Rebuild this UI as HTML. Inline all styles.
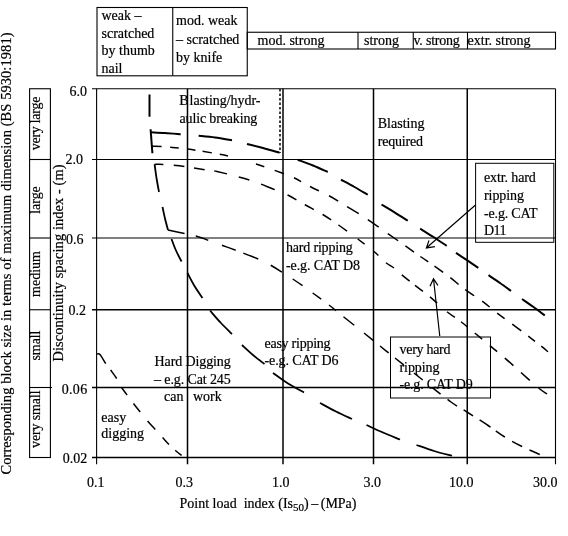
<!DOCTYPE html><html><head><meta charset="utf-8"><style>html,body{margin:0;padding:0;background:#fff}svg{display:block}text{white-space:pre}</style></head><body><svg width="568" height="536" viewBox="0 0 568 536">
<rect width="568" height="536" fill="#fff"/>
<g fill="none" stroke="#000" stroke-width="1.1">
<line x1="96.6" y1="88.75" x2="96.6" y2="464.3" stroke-width="1.1" stroke="#000"/>
<line x1="187.5" y1="88.75" x2="187.5" y2="464.3" stroke-width="1.5" stroke="#000"/>
<line x1="283" y1="88.75" x2="283" y2="464.3" stroke-width="1.5" stroke="#000"/>
<line x1="373.5" y1="88.75" x2="373.5" y2="464.3" stroke-width="1.5" stroke="#000"/>
<line x1="467.25" y1="88.75" x2="467.25" y2="464.3" stroke-width="1.5" stroke="#000"/>
<line x1="555.5" y1="88.75" x2="555.5" y2="464.3" stroke-width="1.1" stroke="#000"/>
<line x1="92" y1="88.75" x2="555.5" y2="88.75" stroke-width="1.1"/>
<line x1="92" y1="159.5" x2="555.5" y2="159.5" stroke-width="1.1"/>
<line x1="92" y1="238" x2="555.5" y2="238" stroke-width="1.1"/>
<line x1="92" y1="309.75" x2="555.5" y2="309.75" stroke-width="1.5"/>
<line x1="92" y1="387.5" x2="555.5" y2="387.5" stroke-width="1.5"/>
<line x1="92" y1="457.5" x2="555.5" y2="457.5" stroke-width="1.3"/>
<rect x="97" y="7.5" width="150.25" height="68.3"/>
<line x1="172.75" y1="7.5" x2="172.75" y2="75.5"/>
<rect x="247.25" y="32.25" width="308.25" height="16.75"/>
<line x1="358" y1="32.25" x2="358" y2="49"/>
<line x1="413.25" y1="32.25" x2="413.25" y2="49"/>
<line x1="467.5" y1="32.25" x2="467.5" y2="49"/>
<rect x="29.6" y="88.75" width="20.8" height="368.75"/>
<line x1="29.6" y1="159.5" x2="50.4" y2="159.5"/>
<line x1="29.6" y1="238" x2="50.4" y2="238"/>
<line x1="29.6" y1="309.75" x2="50.4" y2="309.75"/>
<line x1="29.6" y1="387.5" x2="52" y2="387.5"/>
<rect x="475.6" y="163.3" width="78.2" height="79" stroke-width="1"/>
<rect x="390.5" y="337" width="100" height="61" stroke-width="1"/>
</g>
<g fill="none" stroke="#000" stroke-linecap="butt">
<path d="M149.50,94.50 C149.50,98.20 149.50,113.00 149.50,116.70" stroke-width="2.0"/>
<path d="M150.60,129.20 C150.90,133.22 152.10,149.28 152.40,153.30" stroke-width="2.0"/>
<path d="M151.00,132.30 C153.33,132.42 160.05,132.68 165.00,133.00 C169.95,133.32 178.08,134.00 180.70,134.20" stroke-width="2.0"/>
<path d="M198.60,135.80 C201.33,136.08 209.43,136.77 215.00,137.50 C220.57,138.23 229.17,139.75 232.00,140.20" stroke-width="2.0"/>
<path d="M247.00,144.00 C249.67,144.67 257.58,146.54 263.00,148.00 C268.42,149.46 276.75,151.96 279.50,152.75" stroke-width="2.0"/>
<path d="M297.75,159.75 C300.29,160.71 308.00,163.46 313.00,165.50 C318.00,167.54 325.29,170.92 327.75,172.00" stroke-width="2.0"/>
<path d="M341.00,179.75 C343.25,180.96 350.04,184.50 354.50,187.00 C358.96,189.50 365.54,193.46 367.75,194.75" stroke-width="2.0"/>
<path d="M381.50,204.50 C383.67,205.80 390.12,209.59 394.50,212.30 C398.88,215.01 405.54,219.34 407.75,220.75" stroke-width="2.0"/>
<path d="M420.20,228.70 C422.42,230.08 429.08,234.15 433.50,237.00 C437.92,239.85 444.50,244.33 446.70,245.80" stroke-width="2.0"/>
<path d="M456.00,252.90 C457.83,254.12 463.28,257.72 467.00,260.20 C470.72,262.68 476.42,266.53 478.30,267.80" stroke-width="2.0"/>
<path d="M488.50,275.20 C490.42,276.50 496.25,280.37 500.00,283.00 C503.75,285.63 509.17,289.67 511.00,291.00" stroke-width="2.0"/>
<path d="M522.00,299.00 C523.92,300.33 529.71,304.25 533.50,307.00 C537.29,309.75 542.88,314.08 544.75,315.50" stroke-width="2.0"/>
<path d="M154.60,164.40 C154.92,166.67 155.77,173.40 156.50,178.00 C157.23,182.60 158.58,189.67 159.00,192.00" stroke-width="1.8"/>
<path d="M162.50,207.00 C162.92,208.92 164.08,214.67 165.00,218.50 C165.92,222.33 167.50,228.08 168.00,230.00" stroke-width="1.8"/>
<path d="M171.50,239.00 C172.25,240.92 174.33,246.75 176.00,250.50 C177.67,254.25 180.58,259.67 181.50,261.50" stroke-width="1.8"/>
<path d="M187.50,273.00 C188.67,275.17 192.00,281.83 194.50,286.00 C197.00,290.17 201.17,296.00 202.50,298.00" stroke-width="1.8"/>
<path d="M210.00,310.50 C211.75,312.50 216.83,318.58 220.50,322.50 C224.17,326.42 230.08,332.08 232.00,334.00" stroke-width="1.8"/>
<path d="M242.00,345.00 C243.83,346.67 249.25,351.83 253.00,355.00 C256.75,358.17 262.58,362.50 264.50,364.00" stroke-width="1.8"/>
<path d="M273.00,373.00 C275.50,374.75 282.83,380.25 288.00,383.50 C293.17,386.75 301.33,391.00 304.00,392.50" stroke-width="1.8"/>
<path d="M320.00,403.00 C322.67,404.42 330.67,408.83 336.00,411.50 C341.33,414.17 349.33,417.75 352.00,419.00" stroke-width="1.8"/>
<path d="M366.50,425.00 C369.25,426.25 377.42,430.08 383.00,432.50 C388.58,434.92 397.17,438.33 400.00,439.50" stroke-width="1.8"/>
<path d="M416.50,445.00 C419.42,446.00 428.08,449.21 434.00,451.00 C439.92,452.79 449.00,454.96 452.00,455.75" stroke-width="1.8"/>
<path d="M152.00,146.30 C153.60,146.33 157.13,146.20 161.60,146.50 C166.07,146.80 173.15,147.48 178.80,148.10 C184.45,148.72 187.30,148.88 195.50,150.20 C203.70,151.52 217.92,153.70 228.00,156.00 C238.08,158.30 247.00,161.17 256.00,164.00 C265.00,166.83 275.67,170.71 282.00,173.00 C288.33,175.29 289.33,175.50 294.00,177.75 C298.67,180.00 304.17,183.50 310.00,186.50 C315.83,189.50 322.83,192.42 329.00,195.75 C335.17,199.08 340.54,202.54 347.00,206.50 C353.46,210.46 360.96,215.00 367.75,219.50 C374.54,224.00 381.49,229.12 387.75,233.50 C394.01,237.88 399.89,241.98 405.30,245.80 C410.71,249.62 415.37,253.03 420.20,256.40 C425.03,259.77 429.30,262.48 434.30,266.00 C439.30,269.52 445.20,273.67 450.20,277.50 C455.20,281.33 459.00,285.08 464.30,289.00 C469.60,292.92 476.55,297.00 482.00,301.00 C487.45,305.00 492.00,309.17 497.00,313.00 C502.00,316.83 506.83,320.17 512.00,324.00 C517.17,327.83 523.17,332.33 528.00,336.00 C532.83,339.67 537.67,343.38 541.00,346.00 C544.33,348.62 546.83,350.79 548.00,351.75" stroke-width="1.5" stroke-dasharray="9.6 8.6 8.6 9.4 7.5 7.2 9.4 8.0 8.4 29.1 8.8 10.9 9.7 11.1 8.1 10.1 9.9 11.3 10.8 10.2 13.9 10.6 13.0 11.4 12.2 9.3 10.3 8.0 9.7 7.4 10.7 8.9 10.8 8.4 10.7 9.7 9.3 9.9 9.3 9.4 11.2 8.8 8.5 7.9 9.1 1000.0"/>
<path d="M154.50,164.40 C155.98,164.40 158.42,164.03 163.40,164.40 C168.38,164.77 177.52,165.72 184.40,166.60 C191.28,167.48 199.27,168.88 204.70,169.70 C210.13,170.52 209.53,169.78 217.00,171.50 C224.47,173.22 240.17,177.08 249.50,180.00 C258.83,182.92 266.62,186.50 273.00,189.00 C279.38,191.50 282.42,192.38 287.75,195.00 C293.08,197.62 299.17,201.50 305.00,204.75 C310.83,208.00 317.17,211.12 322.75,214.50 C328.33,217.88 332.67,220.92 338.50,225.00 C344.33,229.08 351.83,234.58 357.75,239.00 C363.67,243.42 369.29,247.54 374.00,251.50 C378.71,255.46 382.67,260.00 386.00,262.75 C389.33,265.50 391.37,265.98 394.00,268.00 C396.63,270.02 398.30,272.00 401.80,274.90 C405.30,277.80 410.30,281.73 415.00,285.40 C419.70,289.07 424.67,292.51 430.00,296.90 C435.33,301.29 441.83,307.61 447.00,311.75 C452.17,315.89 456.38,318.21 461.00,321.75 C465.62,325.29 469.96,329.04 474.75,333.00 C479.54,336.96 484.75,341.33 489.75,345.50 C494.75,349.67 499.54,353.50 504.75,358.00 C509.96,362.50 515.38,367.50 521.00,372.50 C526.62,377.50 534.17,384.42 538.50,388.00 C542.83,391.58 545.58,393.00 547.00,394.00" stroke-width="1.5" stroke-dasharray="8.9 10.4 10.7 9.7 10.8 9.9 13.0 12.0 11.0 12.4 14.7 14.0 10.1 9.7 10.2 10.1 10.2 8.8 10.6 13.2 8.6 11.9 5.9 10.6 9.6 10.4 10.1 6.8 10.0 8.9 9.6 13.0 9.7 7.5 8.3 9.5 9.7 9.9 9.6 9.9 11.7 10.0 11.8 11.6 10.4 1000.0"/>
<path d="M168.00,230.00 C170.75,230.58 179.88,232.50 184.50,233.50 C189.12,234.50 191.79,234.88 195.75,236.00 C199.71,237.12 203.88,238.71 208.25,240.25 C212.62,241.79 217.42,243.58 222.00,245.25 C226.58,246.92 229.71,247.96 235.75,250.25 C241.79,252.54 252.42,256.50 258.25,259.00 C264.08,261.50 265.00,261.92 270.75,265.25 C276.50,268.58 285.75,274.38 292.75,279.00 C299.75,283.62 306.71,288.67 312.75,293.00 C318.79,297.33 323.88,301.04 329.00,305.00 C334.12,308.96 337.67,312.08 343.50,316.75 C349.33,321.42 357.92,328.12 364.00,333.00 C370.08,337.88 374.83,341.83 380.00,346.00 C385.17,350.17 389.33,353.50 395.00,358.00 C400.67,362.50 409.38,369.33 414.00,373.00 C418.62,376.67 416.58,375.17 422.75,380.00 C428.92,384.83 443.62,396.67 451.00,402.00 C458.38,407.33 460.75,408.04 467.00,412.00 C473.25,415.96 482.21,421.58 488.50,425.75 C494.79,429.92 499.17,433.54 504.75,437.00 C510.33,440.46 516.17,443.58 522.00,446.50 C527.83,449.42 536.79,453.17 539.75,454.50" stroke-width="1.5" stroke-dasharray="16.9 11.5 13.2 14.6 14.6 8.2 16.0 14.0 13.0 12.9 11.9 12.5 10.5 9.7 9.0 9.7 13.7 12.5 11.7 8.9 11.2 8.0 11.3 12.9 11.2 12.4 10.2 8.6 11.8 7.8 11.3 7.4 13.0 6.6 11.0 8.4 11.3 8.2 11.3 1000.0"/>
<path d="M97.00,354.00 C97.50,354.08 98.50,352.83 100.00,354.50 C101.50,356.17 104.17,361.33 106.00,364.00 C107.83,366.67 109.17,368.00 111.00,370.50 C112.83,373.00 115.17,376.08 117.00,379.00 C118.83,381.92 120.25,385.25 122.00,388.00 C123.75,390.75 125.00,392.17 127.50,395.50 C130.00,398.83 133.58,403.67 137.00,408.00 C140.42,412.33 144.88,417.83 148.00,421.50 C151.12,425.17 153.25,427.25 155.75,430.00 C158.25,432.75 160.71,435.50 163.00,438.00 C165.29,440.50 167.38,442.88 169.50,445.00 C171.62,447.12 173.67,448.96 175.75,450.75 C177.83,452.54 180.96,454.92 182.00,455.75" stroke-width="1.5" stroke-dasharray="14 8.2 10.4 10.3 9.3 10.5 11 11.5 11.5 10.8 9.5 8.5 8 50"/>
<line x1="280" y1="89" x2="280" y2="153" stroke-width="1.5" stroke-dasharray="2.5 2"/>
<path d="M475.5,205 L426.6,247.7 M429,240.5 L426.4,247.9 L434.9,246.7" stroke-width="1.2"/>
<path d="M439.75,336 L433.5,278.7 M430,286.3 L433.5,278.7 L437.9,285.4" stroke-width="1.2"/>
</g>
<g font-family="'Liberation Serif', 'Times New Roman', serif" font-size="14" fill="#000" stroke="#000" stroke-width="0.2">
<text x="101.5" y="20.0" >weak –</text>
<text x="101.5" y="37.5" >scratched</text>
<text x="101.5" y="55.0" >by thumb</text>
<text x="101.5" y="72.5" >nail</text>
<text x="176" y="25" >mod. weak</text>
<text x="176" y="43.75" >– scratched</text>
<text x="176" y="61.5" >by knife</text>
<text x="257.5" y="44.5" >mod. strong</text>
<text x="364" y="44.5" >strong</text>
<text x="413.5" y="44.5" textLength="46.3">v. strong</text>
<text x="467.6" y="44.5" >extr. strong</text>
<text x="179.2" y="104.5" >B</text>
<text x="189.6" y="104.5" textLength="70.9">lasting/hydr-</text>
<text x="179.5" y="122.5" textLength="77.8">aulic breaking</text>
<text x="377.75" y="127.5" >Blasting</text>
<text x="377.75" y="146" textLength="45.3">required</text>
<text x="484" y="181.6" textLength="51.8">extr. hard</text>
<text x="484" y="199.7" textLength="40">ripping</text>
<text x="484" y="218" textLength="53.5">-e.g. CAT</text>
<text x="484" y="235.2" textLength="22.5">D11</text>
<text x="286" y="252" textLength="66.75">hard ripping</text>
<text x="286" y="270.4" textLength="73.9">-e.g. CAT D8</text>
<text x="264.5" y="348.25" textLength="66">easy ripping</text>
<text x="264.5" y="365.4" textLength="74">-e.g. CAT D6</text>
<text x="154.5" y="366" textLength="76.25">Hard Digging</text>
<text x="154" y="384" textLength="76.75">– e.g. Cat 245</text>
<text x="164" y="401" >can</text>
<text x="193" y="401" >work</text>
<text x="101.25" y="422" >easy</text>
<text x="101.25" y="438.25" >digging</text>
<text x="399.5" y="354.25" textLength="51">very hard</text>
<text x="399.5" y="371.75" textLength="40">ripping</text>
<text x="399.5" y="389.25" textLength="73.25">-e.g. CAT D9</text>
<text x="87" y="95.8" text-anchor="end">6.0</text>
<text x="83" y="163.5" text-anchor="end">2.0</text>
<text x="83.5" y="243.5" text-anchor="end">0.6</text>
<text x="86" y="315" text-anchor="end">0.2</text>
<text x="87.2" y="393.5" text-anchor="end" textLength="25.5">0.06</text>
<text x="87.25" y="462.75" text-anchor="end">0.02</text>
<text x="87" y="486.5" >0.1</text>
<text x="175.5" y="486.5" >0.3</text>
<text x="272" y="486.5" >1.0</text>
<text x="363.5" y="486.5" >3.0</text>
<text x="449" y="486.5" >10.0</text>
<text x="533" y="486.5" >30.0</text>
<text x="179.5" y="508">Point load  index (Is<tspan font-size="11" dy="3">50</tspan><tspan dy="-3">)</tspan><tspan dx="-1"> –</tspan><tspan dx="-1"> (MPa)</tspan></text>
<text transform="translate(11,474.5) rotate(-90)" textLength="442" font-size="14.4">Corresponding block size in terms of maximum dimension (BS 5930:1981)</text>
<text transform="translate(63.2,361.5) rotate(-90)" textLength="197" font-size="14.4">Discontinuity spacing index - (m)</text>
<text transform="translate(40,123.4) rotate(-90)" text-anchor="middle" textLength="53.5">very large</text>
<text transform="translate(40,200) rotate(-90)" text-anchor="middle" textLength="27.7">large</text>
<text transform="translate(40,274) rotate(-90)" text-anchor="middle" textLength="45.9">medium</text>
<text transform="translate(40,345.5) rotate(-90)" text-anchor="middle" textLength="30">small</text>
<text transform="translate(40,419.2) rotate(-90)" text-anchor="middle" textLength="57.6">very small</text>
</g>
</svg></body></html>
